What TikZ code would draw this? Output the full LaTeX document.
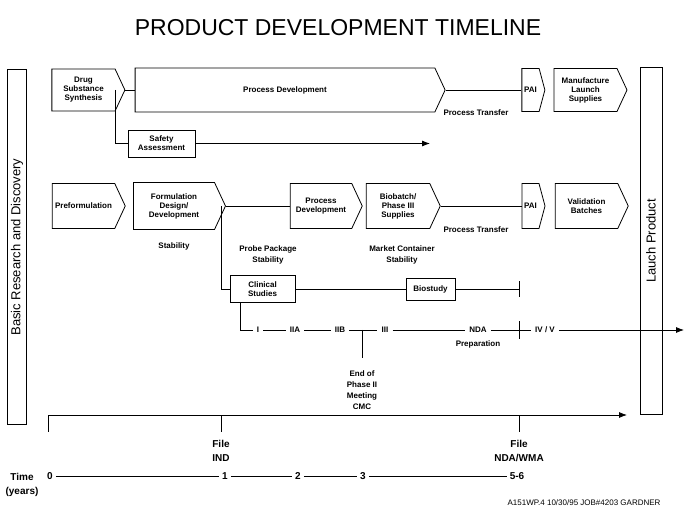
\documentclass[tikz,border=0pt]{standalone}
\usepackage{fontspec}
\setmainfont{Liberation Sans}
\usetikzlibrary{shapes.symbols,arrows.meta}
\begin{document}
\begin{tikzpicture}[x=1pt,y=-1pt,
  sig/.style={draw,thick,shape=signal,signal to=east,signal pointer angle=130,inner sep=1pt,font=\fontsize{8}{9}\selectfont\bfseries,align=center},
  bx/.style={draw,thick,inner sep=2pt,font=\fontsize{8}{9}\selectfont\bfseries,align=center},
  lbl/.style={font=\fontsize{8}{9}\selectfont\bfseries,align=center,inner sep=1pt},
  phl/.style={lbl,inner xsep=4pt},
  ln/.style={thick},
  arr/.style={thick,-{Latex[length=8pt,width=6pt]}}]
\useasboundingbox (0,0) rectangle (685,510);
\node[font=\fontsize{23}{25}\selectfont] (title) at (338,28) {PRODUCT DEVELOPMENT TIMELINE};
\node[draw,thick,minimum width=355pt,minimum height=18pt,rotate=90,font=\fontsize{13}{15}\selectfont] (brd) at (17,247) {Basic Research and Discovery};
\node[draw,thick,minimum width=347pt,minimum height=22pt,rotate=90,font=\fontsize{13}{15}\selectfont] (lp) at (651,241) {Lauch Product};
% row 1
\node[sig,minimum width=73pt,minimum height=42pt] (dss) at (83.5,90) {Drug\\Substance\\Synthesis};
\node[sig,minimum width=310pt,minimum height=44pt] (pd) at (285,90) {Process Development};
\node[sig,minimum width=23pt,minimum height=43pt,signal pointer angle=150] (pai1) at (530.5,90) {PAI};
\node[sig,minimum width=73pt,minimum height=43pt] (mls) at (585.5,90) {Manufacture\\Launch\\Supplies};
\draw[ln] (dss.east) -- (pd.west);
\draw[ln] (pd.east) -- (pai1.west);
\node[lbl] (pt1) at (476,113) {Process Transfer};
\node[bx,minimum width=67pt,minimum height=27pt] (sa) at (161.5,143.5) {Safety\\Assessment};
\coordinate (j1) at (115,90);
\coordinate (sae) at (430,143.5);
\draw[ln] (j1) |- (sa.west);
\draw[arr] (sa.east) -- (sae);
% row 2
\node[sig,minimum width=73pt,minimum height=45pt] (pre) at (83.5,206) {Preformulation};
\node[sig,minimum width=92pt,minimum height=47pt] (fdd) at (174,206) {Formulation\\Design/\\Development};
\node[sig,minimum width=72pt,minimum height=45pt] (pd2) at (321,206) {Process\\Development};
\node[sig,minimum width=74pt,minimum height=45pt] (bb) at (398,206) {Biobatch/\\Phase III\\Supplies};
\node[sig,minimum width=23pt,minimum height=45pt,signal pointer angle=150] (pai2) at (530.5,206) {PAI};
\node[sig,minimum width=73pt,minimum height=45pt] (vb) at (586.5,206) {Validation\\Batches};
\draw[ln] (fdd.east) -- (pd2.west);
\draw[ln] (bb.east) -- (pai2.west);
\node[lbl] (pt2) at (476,230) {Process Transfer};
\node[lbl] (st1) at (174,246) {Stability};
\node[lbl] (pps) at (268,255) {Probe Package\\[2pt]Stability};
\node[lbl] (mcs) at (402,255) {Market Container\\[2pt]Stability};
% clinical
\node[bx,minimum width=65pt,minimum height=27pt] (cs) at (262.5,289) {Clinical\\Studies};
\node[bx,minimum width=49pt,minimum height=22pt] (bio) at (430.5,289) {Biostudy};
\coordinate (j2) at (221,206);
\coordinate (bioe) at (519,289);
\draw[ln] (j2) |- (cs.west);
\draw[ln] (cs.east) -- (bio.west);
\draw[ln] (bio.east) -- (bioe);
\draw[ln] ([yshift=-8pt]bioe) -- ([yshift=8pt]bioe);
% phases
\coordinate (p0) at (240,302.5);
\coordinate (p1) at (240,330);
\node[phl] (ph1) at (258,330) {I};
\node[phl] (ph2) at (295,330) {IIA};
\node[phl] (ph3) at (340,330) {IIB};
\node[phl] (ph4) at (385,330) {III};
\node[phl] (nda) at (478,330) {NDA};
\node[lbl] (prep) at (478,344) {Preparation};
\node[phl] (ph5) at (545,330) {IV / V};
\coordinate (pend) at (684,330);
\coordinate (tk) at (519,330);
\draw[ln] (p0) -- (p1) -- (ph1.west);
\draw[ln] (ph1.east) -- (ph2.west);
\draw[ln] (ph2.east) -- (ph3.west);
\draw[ln] (ph3.east) -- (ph4.west);
\draw[ln] (ph4.east) -- (nda.west);
\draw[ln] (nda.east) -- (ph5.west);
\draw[arr] (ph5.east) -- (pend);
\draw[ln] ([yshift=-9pt]tk) -- ([yshift=9pt]tk);
\coordinate (eop) at (362,330);
\coordinate (eopb) at (362,358);
\node[lbl] (eopl) at (362,390) {End of\\[2pt]Phase II\\[2pt]Meeting\\[2pt]CMC};
\draw[ln] (eop) -- (eopb);
% timeline
\coordinate (t0) at (48,415);
\coordinate (tend) at (627,415);
\draw[arr] (t0) -- (tend);
\draw[ln] (t0) -- (48,432);
\draw[ln] (221,415) -- (221,432);
\draw[ln] (519,415) -- (519,432);
\node[lbl,font=\fontsize{10}{11}\selectfont\bfseries] (ind) at (221,451) {File\\[3pt]IND};
\node[lbl,font=\fontsize{10}{11}\selectfont\bfseries] (ndaw) at (519,451) {File\\[3pt]NDA/WMA};
\node[lbl,font=\fontsize{10}{11}\selectfont\bfseries] (time) at (22,485) {Time\\[3pt](years)};
\begin{scope}[every node/.style={lbl,font=\fontsize{10}{11}\selectfont\bfseries,inner sep=3pt}]
\node (y0) at (50,476) {0};
\node (y1) at (225,476) {1};
\node (y2) at (298,476) {2};
\node (y3) at (363,476) {3};
\node (y5) at (517,476) {5-6};
\end{scope}
\draw[ln] (y0) -- (y1) -- (y2) -- (y3) -- (y5);
\node[anchor=east,font=\fontsize{8}{9}\selectfont] (foot) at (664,503) {A151WP.4 10/30/95 JOB\#4203 GARDNER};
\end{tikzpicture}
\end{document}
